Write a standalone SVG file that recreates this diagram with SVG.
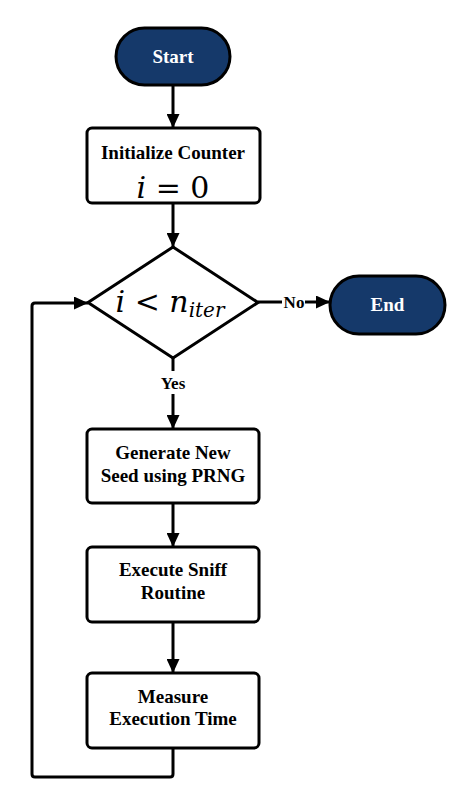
<svg xmlns="http://www.w3.org/2000/svg" width="474" height="808" viewBox="0 0 474 808">
<defs>
<marker id="arr" markerUnits="userSpaceOnUse" markerWidth="15" markerHeight="13" refX="14" refY="6.5" orient="auto">
<path d="M0,0 L14,6.5 L0,13 z" fill="#000"/>
</marker>
<style>
.term{fill:#15396a;stroke:#000;stroke-width:3}
.box{fill:#fff;stroke:#000;stroke-width:3}
.lbl{font-family:"Liberation Serif",serif;font-weight:bold;font-size:19px;text-anchor:middle}
.tl{fill:#fff}
.small{font-family:"Liberation Serif",serif;font-weight:bold;font-size:17px;text-anchor:middle}
.math{font-family:"DejaVu Serif","Liberation Serif",serif;font-size:30px;text-anchor:middle}
.conn{fill:none;stroke:#000;stroke-width:3}
</style>
</defs>
<rect width="474" height="808" fill="#fff"/>
<g id="connectors">
<line class="conn" x1="173" y1="85" x2="173" y2="128" marker-end="url(#arr)"/>
<line class="conn" x1="173" y1="203" x2="173" y2="247" marker-end="url(#arr)"/>
<line class="conn" x1="173" y1="358" x2="173" y2="371"/>
<line class="conn" x1="173" y1="394" x2="173" y2="429" marker-end="url(#arr)"/>
<line class="conn" x1="258" y1="302" x2="282" y2="302"/>
<line class="conn" x1="305" y1="302" x2="330" y2="302" marker-end="url(#arr)"/>
<line class="conn" x1="173" y1="503" x2="173" y2="547" marker-end="url(#arr)"/>
<line class="conn" x1="173" y1="622" x2="173" y2="673" marker-end="url(#arr)"/>
<path class="conn" d="M173,748 V774 Q173,777 170,777 H35 Q32,777 32,774 V306 Q32,303 35,303 H88" marker-end="url(#arr)"/>
<text class="small" x="173" y="389">Yes</text>
<text class="small" x="294" y="308">No</text>
</g>
<g id="start">
<rect class="term" x="116" y="28" width="114" height="57" rx="28.5"/>
<text class="lbl tl" x="173" y="63">Start</text>
</g>
<g id="init">
<rect class="box" x="87" y="128" width="173" height="75" rx="5"/>
<text class="lbl" x="173" y="159">Initialize Counter</text>
<text class="math" x="173" y="198"><tspan font-style="italic">i</tspan> = 0</text>
</g>
<g id="decision">
<polygon class="box" points="173,247 258,302.5 173,358 88,302.5"/>
<text class="math" x="170" y="312" font-size="29px"><tspan font-style="italic">i</tspan> &lt; <tspan font-style="italic">n</tspan><tspan font-style="italic" font-size="20px" dy="5">iter</tspan></text>
</g>
<g id="end">
<rect class="term" x="330" y="276" width="115" height="58" rx="29"/>
<text class="lbl tl" x="387.5" y="311">End</text>
</g>
<g id="generate">
<rect class="box" x="87" y="429" width="172" height="74" rx="5"/>
<text class="lbl" x="173" y="459">Generate New</text>
<text class="lbl" x="173" y="482">Seed using PRNG</text>
</g>
<g id="execute">
<rect class="box" x="87" y="547" width="172" height="75" rx="5"/>
<text class="lbl" x="173" y="576">Execute Sniff</text>
<text class="lbl" x="173" y="599">Routine</text>
</g>
<g id="measure">
<rect class="box" x="87" y="673" width="172" height="75" rx="5"/>
<text class="lbl" x="173" y="703">Measure</text>
<text class="lbl" x="173" y="725">Execution Time</text>
</g>
</svg>
